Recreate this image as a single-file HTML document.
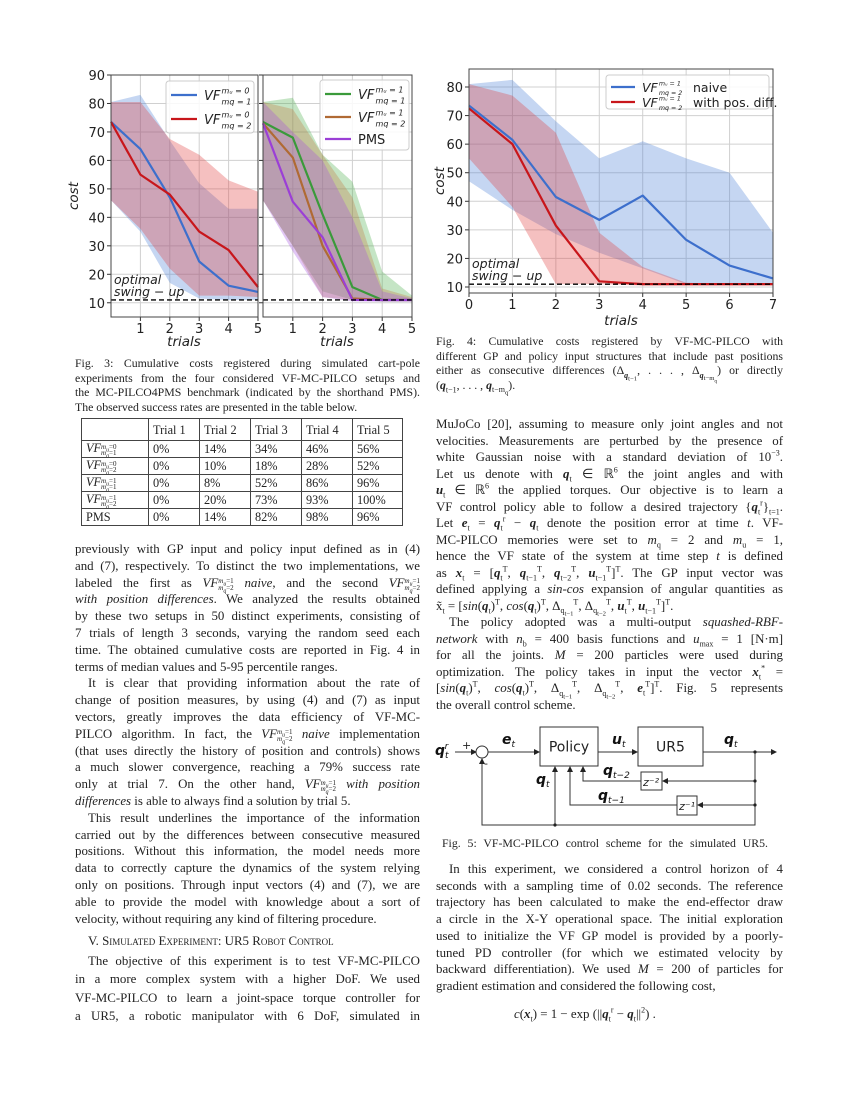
<!DOCTYPE html>
<html><head><meta charset="utf-8">
<style>
html,body{margin:0;padding:0;background:#fff;}
#page{position:relative;width:850px;height:1100px;overflow:hidden;background:#fff;font-family:"Liberation Serif",serif;color:#222;}
.j{position:absolute;font-size:12.9px;line-height:16px;height:16px;white-space:nowrap;text-align:left;}
.c{position:absolute;font-size:11.8px;line-height:14px;height:14px;white-space:nowrap;text-align:left;}
.ss{display:inline-block;vertical-align:-3px;font-size:7px;line-height:6.5px;height:13px;text-align:left;}
sub,sup{line-height:0;}
i{font-style:italic;}
b.v{font-weight:bold;font-style:italic;}
svg text{font-family:"DejaVu Sans","Liberation Sans",sans-serif;}
table.t{position:absolute;left:81px;top:418px;border-collapse:collapse;font-size:12.3px;font-family:"Liberation Serif",serif;table-layout:fixed;}
table.t td{border:1px solid #444;padding:0 0 0 4px;height:16px;line-height:14px;overflow:hidden;white-space:nowrap;}
</style></head><body>
<div id="page">

<svg id="fig3" width="850" height="350" style="position:absolute;left:0;top:0"></svg>
<svg id="fig4" width="850" height="340" style="position:absolute;left:0;top:0"></svg>

<div id="caps"></div>

<table class="t">
<tr style="height:22px"><td style="width:62px"></td><td style="width:46px">Trial 1</td><td style="width:46px">Trial 2</td><td style="width:46px">Trial 3</td><td style="width:46px">Trial 4</td><td style="width:45px">Trial 5</td></tr>
<tr><td><i>VF</i><span class="ss"><i>m<sub>u</sub></i>=0<br><i>m<sub>q</sub></i>=1</span></td><td>0%</td><td>14%</td><td>34%</td><td>46%</td><td>56%</td></tr>
<tr><td><i>VF</i><span class="ss"><i>m<sub>u</sub></i>=0<br><i>m<sub>q</sub></i>=2</span></td><td>0%</td><td>10%</td><td>18%</td><td>28%</td><td>52%</td></tr>
<tr><td><i>VF</i><span class="ss"><i>m<sub>u</sub></i>=1<br><i>m<sub>q</sub></i>=1</span></td><td>0%</td><td>8%</td><td>52%</td><td>86%</td><td>96%</td></tr>
<tr><td><i>VF</i><span class="ss"><i>m<sub>u</sub></i>=1<br><i>m<sub>q</sub></i>=2</span></td><td>0%</td><td>20%</td><td>73%</td><td>93%</td><td>100%</td></tr>
<tr><td>PMS</td><td>0%</td><td>14%</td><td>82%</td><td>98%</td><td>96%</td></tr>
</table>

<div id="leftcol"></div>
<div id="rightcol"></div>

<svg id="fig5" width="850" height="1100" style="position:absolute;left:0;top:0;pointer-events:none"></svg>

<script>
var NS='http://www.w3.org/2000/svg';
// ---- Fig 3 data (left panel) ----
var trials3=[0,1,2,3,4,5];
var vf01Median=[73.5,64,47,24.5,16,13.8];
var vf01Upper=[80.5,83,67,52,43,43];
var vf01Lower=[46,35,17,11.5,11,11];
var vf02Median=[73.5,55,48,35,28.5,15.5];
var vf02Upper=[80.5,80.5,67.5,62,53,49];
var vf02Lower=[46,36,22,12.5,12.5,12];
// ---- Fig 3 data (right panel) ----
var vf11Median=[73.5,68,41,15.5,11,11];
var vf11Upper=[80.5,82,62,52.5,21,12.5];
var vf11Lower=[46,30,14,11,10.5,10.5];
var vf12Median=[73,61,30,11.5,11,11];
var vf12Upper=[80.5,78,62,47,15,12];
var vf12Lower=[46,30,12,11,10.5,10.5];
var pmsMedian=[73,45.5,33,11,11,11];
var pmsUpper=[80.5,70,60,40,14,11.5];
var pmsLower=[46,28,12,10.5,10.3,10.3];
var yTicks3=[10,20,30,40,50,60,70,80,90];
var xTicks3=[1,2,3,4,5];
// ---- Fig 4 data ----
var trials4=[0,1,2,3,4,5,6,7];
var naiveMedian=[73.5,61.5,41.5,33.5,42,26.5,17.5,13];
var naiveUpper=[81,82.5,68,55,61,55,50,29];
var naiveLower=[47,37,28.5,22,16.5,11,11,11];
var posdiffMedian=[72.5,60,31.5,12,11,11,11,11];
var posdiffUpper=[81,77,64,29,17,11.5,11,11];
var posdiffLower=[55,38,11,11,10.5,10.5,10.5,10.5];
var yTicks4=[10,20,30,40,50,60,70,80];
var xTicks4=[0,1,2,3,4,5,6,7];
var optimalCost=11;

function mk(parent,tag,attrs,txt){var e=document.createElementNS(NS,tag);for(var k in attrs)e.setAttribute(k,attrs[k]);if(txt!==undefined)e.textContent=txt;parent.appendChild(e);return e;}
function axes(o){
  o.sx=function(v){return o.x0+(v-o.xd[0])/(o.xd[1]-o.xd[0])*(o.x1-o.x0);};
  o.sy=function(v){return o.y1-(v-o.yd[0])/(o.yd[1]-o.yd[0])*(o.y1-o.y0);};
  return o;
}
function drawFrame(svg,o,xt,yt,showY){
  var g=mk(svg,'g',{});
  
  
  xt.forEach(function(v){mk(g,'line',{x1:o.sx(v),x2:o.sx(v),y1:o.y0,y2:o.y1,stroke:'#d0d0d0','stroke-width':1});});
  yt.forEach(function(v){mk(g,'line',{x1:o.x0,x2:o.x1,y1:o.sy(v),y2:o.sy(v),stroke:'#d0d0d0','stroke-width':1});});
  var ax=mk(svg,'g',{});
  
  
  xt.forEach(function(v){
    mk(ax,'line',{x1:o.sx(v),x2:o.sx(v),y1:o.y1,y2:o.y1+4,stroke:'#333'});
    var t=mk(ax,'text',{x:o.sx(v),y:o.y1+16,'font-size':13,'text-anchor':'middle',fill:'#222'},String(v));
    
    
  });
  yt.forEach(function(v){
    mk(ax,'line',{x1:o.x0-4,x2:o.x0,y1:o.sy(v),y2:o.sy(v),stroke:'#333'});
    if(showY){var t=mk(ax,'text',{x:o.x0-6,y:o.sy(v)+5,'font-size':13,'text-anchor':'end',fill:'#222'},String(v));
    
    }
  });
}
function drawBand(svg,o,xs,up,lo,col,name){
  var pts=[];xs.forEach(function(x,i){pts.push(o.sx(x)+','+o.sy(up[i]));});
  for(var i=xs.length-1;i>=0;i--)pts.push(o.sx(xs[i])+','+o.sy(lo[i]));
  var p=mk(svg,'polygon',{points:pts.join(' '),fill:col,'fill-opacity':0.32,stroke:'none'});
  
  
}
function drawLine(svg,o,xs,ys,col,name){
  var d=xs.map(function(x,i){return (i?'L':'M')+o.sx(x)+' '+o.sy(ys[i]);}).join(' ');
  var p=mk(svg,'path',{d:d,fill:'none',stroke:col,'stroke-width':2.2,'stroke-linejoin':'round'});
  
  
}
function drawOpt(svg,o,name,label){
  var l=mk(svg,'line',{x1:o.x0,x2:o.x1,y1:o.sy(optimalCost),y2:o.sy(optimalCost),stroke:'#000','stroke-width':1.4,'stroke-dasharray':'5,3'});
  
  
  if(label){
    var t1=mk(svg,'text',{x:o.x0+3,y:o.sy(optimalCost)-16,'font-size':12.5,'font-style':'italic',fill:'#222'},'optimal');
    
    
    var t2=mk(svg,'text',{x:o.x0+3,y:o.sy(optimalCost)-4,'font-size':12.5,'font-style':'italic',fill:'#222'},'swing − up');
    
    
  }
}
function border(svg,o,name){
  var r=mk(svg,'rect',{x:o.x0,y:o.y0,width:o.x1-o.x0,height:o.y1-o.y0,fill:'none',stroke:'#444','stroke-width':1});
  
  
}
function legend(svg,x,y,w,h,items,fs,sfs,lw,toff){
  var g=mk(svg,'g',{});
  
  
  mk(g,'rect',{x:x,y:y,width:w,height:h,rx:3,fill:'#fff','fill-opacity':0.85,stroke:'#ccc'});
  items.forEach(function(it){
    var e=mk(g,'g',{});
    
    
    mk(e,'line',{x1:x+5,x2:x+5+lw,y1:it.y,y2:it.y,stroke:it.c,'stroke-width':2.2});
    var tx=x+lw+12;
    if(it.vf){
      mk(e,'text',{x:tx,y:it.y+5,'font-size':fs,'font-style':'italic',fill:'#222'},'VF');
      mk(e,'text',{x:tx+fs*1.35,y:it.y-1.5,'font-size':sfs,'font-style':'italic',fill:'#222'},'m\u1d64 = '+it.u);
      mk(e,'text',{x:tx+fs*1.35,y:it.y+sfs+1.5,'font-size':sfs,'font-style':'italic',fill:'#222'},'mq = '+it.q);
      if(it.t)mk(e,'text',{x:tx+toff,y:it.y+5,'font-size':fs,fill:'#222'},it.t);
    } else mk(e,'text',{x:tx,y:it.y+5,'font-size':fs,fill:'#222'},it.t);
  });
}

// Fig 3
var f3=document.getElementById('fig3');
var p1=axes({name:'fig3-left',x0:111,x1:258,y0:75,y1:317,xd:[0,5],yd:[5,90]});
var p2=axes({name:'fig3-right',x0:263,x1:412,y0:75,y1:317,xd:[0,5],yd:[5,90]});
drawFrame(f3,p1,xTicks3,yTicks3,true);
drawFrame(f3,p2,xTicks3,yTicks3,false);
var BL='#3d6fcc',RD='#c8161b',GR='#3a9a3a',BR='#b06a34',PU='#9b3fd6';
drawBand(f3,p1,trials3,vf01Upper,vf01Lower,'#4a7fd6','band-vf-mu0-mq1');
drawBand(f3,p1,trials3,vf02Upper,vf02Lower,'#e03a3a','band-vf-mu0-mq2');
drawLine(f3,p1,trials3,vf01Median,BL,'line-vf-mu0-mq1');
drawLine(f3,p1,trials3,vf02Median,RD,'line-vf-mu0-mq2');
drawBand(f3,p2,trials3,vf11Upper,vf11Lower,'#4cae4c','band-vf-mu1-mq1');
drawBand(f3,p2,trials3,vf12Upper,vf12Lower,'#c07a40','band-vf-mu1-mq2');
drawBand(f3,p2,trials3,pmsUpper,pmsLower,'#a550e0','band-pms');
drawLine(f3,p2,trials3,vf11Median,GR,'line-vf-mu1-mq1');
drawLine(f3,p2,trials3,vf12Median,BR,'line-vf-mu1-mq2');
drawLine(f3,p2,trials3,pmsMedian,PU,'line-pms');
drawOpt(f3,p1,'optimal-line-left',true);
drawOpt(f3,p2,'optimal-line-right',false);
border(f3,p1,'fig3-left-frame');border(f3,p2,'fig3-right-frame');
legend(f3,166,81,88,52,[{y:95,c:BL,vf:1,u:0,q:1},{y:119,c:RD,vf:1,u:0,q:2}],13,8,26,0);
legend(f3,320,80,89,70,[{y:94,c:GR,vf:1,u:1,q:1},{y:117,c:BR,vf:1,u:1,q:2},{y:139,c:PU,t:'PMS'}],13,8,26,0);
var yl=mk(f3,'text',{x:0,y:0,'font-size':13.5,'font-style':'italic','text-anchor':'middle',transform:'translate(78,196) rotate(-90)',fill:'#222'},'cost');


[[184],[337]].forEach(function(a){var t=mk(f3,'text',{x:a[0],y:346,'font-size':13.5,'font-style':'italic','text-anchor':'middle',fill:'#222'},'trials');

});

// Fig 4
var f4=document.getElementById('fig4');
var q=axes({name:'fig4',x0:469,x1:773,y0:69,y1:293,xd:[0,7],yd:[7.9,86.3]});
drawFrame(f4,q,xTicks4,yTicks4,true);
drawBand(f4,q,trials4,naiveUpper,naiveLower,'#4a7fd6','band-naive');
drawBand(f4,q,trials4,posdiffUpper,posdiffLower,'#e03a3a','band-pos-diff');
drawLine(f4,q,trials4,naiveMedian,BL,'line-naive');
drawLine(f4,q,trials4,posdiffMedian,RD,'line-pos-diff');
drawOpt(f4,q,'optimal-line',true);
border(f4,q,'fig4-frame');
legend(f4,606,75,163,34,[{y:87,c:BL,vf:1,u:1,q:2,t:'naive'},{y:102,c:RD,vf:1,u:1,q:2,t:'with pos. diff.'}],12.5,6.3,24,51);
var y4=mk(f4,'text',{x:0,y:0,'font-size':13.5,'font-style':'italic','text-anchor':'middle',transform:'translate(444,181) rotate(-90)',fill:'#222'},'cost');


var x4=mk(f4,'text',{x:621,y:325,'font-size':13.5,'font-style':'italic','text-anchor':'middle',fill:'#222'},'trials');



// Fig 5 diagram
var f5=document.getElementById('fig5');
mk(f5,'defs',{}).innerHTML='<marker id="ar" markerWidth="6" markerHeight="6" refX="5" refY="3" orient="auto"><path d="M0,0 L6,3 L0,6 z" fill="#222"/></marker>';
function seg(pts,arrow,name){var p=mk(f5,'polyline',{points:pts,fill:'none',stroke:'#333','stroke-width':1});if(arrow)p.setAttribute('marker-end','url(#ar)');

}
function box(x,y,w,h,t,name,fs){var r=mk(f5,'rect',{x:x,y:y,width:w,height:h,fill:'#fff',stroke:'#333'});


mk(f5,'text',{x:x+w/2,y:y+h/2+5,'font-size':fs||14,'text-anchor':'middle',fill:'#222'},t);}
function lab(x,y,t,sub,sup){var e=mk(f5,'text',{x:x,y:y,'font-size':14,'font-weight':'bold','font-style':'italic','font-family':'Liberation Serif',fill:'#111'},t);
if(sub){mk(e,'tspan',{'font-size':9,dy:3,'font-weight':'normal'},sub);}
if(sup){mk(e,'tspan',{'font-size':9,dy:-9,dx:-4,'font-weight':'normal'},sup);}

}
seg('455,752 476,752',1,'ref-arrow');
var cc=mk(f5,'circle',{cx:482,cy:752,r:6,fill:'#fff',stroke:'#333'});


mk(f5,'text',{x:462,y:749,'font-size':11,fill:'#222'},'+');
mk(f5,'text',{x:484,y:767,'font-size':11,fill:'#222'},'-');
seg('488,752 539,752',1,'error-arrow');
box(540,727,58,39,'Policy','policy-block',14);
seg('598,752 637,752',1,'torque-arrow');
box(638,727,65,39,'UR5','ur5-block',14);
seg('703,752 776,752',1,'output-arrow');
seg('755,752 755,825 482,825 482,759',1,'feedback-loop');
seg('555,825 555,767',1,'qt-to-policy');
seg('755,781 663,781',1,'to-z2');
seg('641,781 583,781 583,767',1,'qt2-to-policy');
seg('755,805 698,805',1,'to-z1');
seg('677,805 570,805 570,767',1,'qt1-to-policy');
box(641,772,21,18,'','z2-block');mk(f5,'text',{x:643,y:786,'font-size':11,'font-style':'italic','font-family':'Liberation Serif',fill:'#222'},'z⁻²');
box(677,796,20,19,'','z1-block');mk(f5,'text',{x:679,y:810,'font-size':11,'font-style':'italic','font-family':'Liberation Serif',fill:'#222'},'z⁻¹');
[[755,752],[755,781],[755,805],[555,825]].forEach(function(p){var d=mk(f5,'circle',{cx:p[0],cy:p[1],r:1.6,fill:'#222'});

});
lab(435,755,'q','t','r');lab(502,744,'e','t');lab(612,744,'u','t');lab(724,744,'q','t');
lab(536,784,'q','t');lab(603,775,'q','t−2');lab(598,800,'q','t−1');

// text lines with fitted justification
var IND='@@';
function addLine(par,cls,html,x,y,w,last,name){
  var d=document.createElement('div');d.className=cls;
  if(html.indexOf(IND)===0){html=html.slice(2);x+=13;w-=13;}
  d.style.left=x+'px';d.style.top=y+'px';d.innerHTML=html;
  
  
  par.appendChild(d);
  var nat=d.getBoundingClientRect().width;
  var sp=(d.textContent.match(/ /g)||[]).length;
  if(sp>0 && (!last || nat>w)){d.style.wordSpacing=((w-nat)/sp)+'px';}
}
var capsEl=document.getElementById('caps');
var C3=['Fig. 3: Cumulative costs registered during simulated cart-pole','experiments from the four considered VF-MC-PILCO setups and','the MC-PILCO4PMS benchmark (indicated by the shorthand PMS).','The observed success rates are presented in the table below.'];
C3.forEach(function(t,i){addLine(capsEl,'c',t,75,356+i*14.5,345,i==3,'fig3-caption-line');});
var sb=function(s){return '<sub style="font-size:8px">'+s+'</sub>';};
var sp=function(s){return '<sup style="font-size:8px">'+s+'</sup>';};
var q_='<b class="v">q</b>',u_='<b class="v">u</b>',x_='<b class="v">x</b>',e_='<b class="v">e</b>';
var C4=['Fig. 4: Cumulative costs registered by VF-MC-PILCO with','different GP and policy input structures that include past positions','either as consecutive differences (Δ'+sb(q_+'<sub>t−1</sub>')+', . . . , Δ'+sb(q_+'<sub>t−m<sub>q</sub></sub>')+') or directly','('+q_+sb('t−1')+', . . . , '+q_+sb('t−m<sub>q</sub>')+').'];
C4.forEach(function(t,i){addLine(capsEl,'c',t,436,334+i*14.7,347,i==3,'fig4-caption-line');});
addLine(capsEl,'c','Fig. 5: VF-MC-PILCO control scheme for the simulated UR5.',442,836,326,0,'fig5-caption');

var L=[
['previously with GP input and policy input defined as in (4)'],
['and (7), respectively. To distinct the two implementations, we'],
['labeled the first as <i>VF</i><span class="ss"><i>m<sub>u</sub></i>=1<br><i>m<sub>q</sub></i>=2</span> <i>naive</i>, and the second <i>VF</i><span class="ss"><i>m<sub>u</sub></i>=1<br><i>m<sub>q</sub></i>=2</span>'],
['<i>with position differences</i>. We analyzed the results obtained'],
['by these two setups in 50 distinct experiments, consisting of'],
['7 trials of length 3 seconds, varying the random seed each'],
['time. The obtained cumulative costs are reported in Fig. 4 in'],
['terms of median values and 5-95 percentile ranges.',1],
[IND+'It is clear that providing information about the rate of'],
['change of position measures, by using (4) and (7) as input'],
['vectors, greatly improves the data efficiency of VF-MC-'],
['PILCO algorithm. In fact, the <i>VF</i><span class="ss"><i>m<sub>u</sub></i>=1<br><i>m<sub>q</sub></i>=2</span> <i>naive</i> implementation'],
['(that uses directly the history of position and controls) shows'],
['a much slower convergence, reaching a 79% success rate'],
['only at trial 7. On the other hand, <i>VF</i><span class="ss"><i>m<sub>u</sub></i>=1<br><i>m<sub>q</sub></i>=2</span> <i>with position</i>'],
['<i>differences</i> is able to always find a solution by trial 5.',1],
[IND+'This result underlines the importance of the information'],
['carried out by the differences between consecutive measured'],
['positions. Without this information, the model needs more'],
['data to correctly capture the dynamics of the system relying'],
['only on positions. Through input vectors (4) and (7), we are'],
['able to provide the model with knowledge about a sort of'],
['velocity, without requiring any kind of filtering procedure.',1]
];
var lc=document.getElementById('leftcol');
L.forEach(function(l,i){addLine(lc,'j',l[0],75,541+i*16.8,345,l[1],'body-text-line');});
var h=document.createElement('div');h.className='j';h.style.cssText='left:88px;top:933px;font-variant:small-caps;';h.innerHTML='V. Simulated Experiment: UR5 Robot Control';


lc.appendChild(h);
var L2=[IND+'The objective of this experiment is to test VF-MC-PILCO','in a more complex system with a higher DoF. We used','VF-MC-PILCO to learn a joint-space torque controller for','a UR5, a robotic manipulator with 6 DoF, simulated in'];
var y2=[961,979,998,1016];
L2.forEach(function(t,i){addLine(lc,'j',t,75,y2[i]-8,345,0,'body-text-line');});

var R=[
['MuJoCo [20], assuming to measure only joint angles and not'],
['velocities. Measurements are perturbed by the presence of'],
['white Gaussian noise with a standard deviation of 10'+sp('−3')+'.'],
['Let us denote with '+q_+sb('t')+' ∈ ℝ'+sp('6')+' the joint angles and with'],
[u_+sb('t')+' ∈ ℝ'+sp('6')+' the applied torques. Our objective is to learn a'],
['VF control policy able to follow a desired trajectory {'+q_+sb('t')+sp('r')+'}'+sb('t=1')+'.'],
['Let '+e_+sb('t')+' = '+q_+sb('t')+sp('r')+' − '+q_+sb('t')+' denote the position error at time <i>t</i>. VF-'],
['MC-PILCO memories were set to <i>m</i>'+sb('q')+' = 2 and <i>m</i>'+sb('u')+' = 1,'],
['hence the VF state of the system at time step <i>t</i> is defined'],
['as '+x_+sb('t')+' = ['+q_+sb('t')+sp('T')+', '+q_+sb('t−1')+sp('T')+', '+q_+sb('t−2')+sp('T')+', '+u_+sb('t−1')+sp('T')+']'+sp('T')+'. The GP input vector was'],
['defined applying a <i>sin-cos</i> expansion of angular quantities as'],
['x̃'+sb('t')+' = [<i>sin</i>('+q_+sb('t')+')'+sp('T')+', <i>cos</i>('+q_+sb('t')+')'+sp('T')+', Δ'+sb('q<sub>t−1</sub>')+sp('T')+', Δ'+sb('q<sub>t−2</sub>')+sp('T')+', '+u_+sb('t')+sp('T')+', '+u_+sb('t−1')+sp('T')+']'+sp('T')+'.',1],
[IND+'The policy adopted was a multi-output <i>squashed-RBF-</i>'],
['<i>network</i> with <i>n</i>'+sb('b')+' = 400 basis functions and <i>u</i>'+sb('max')+' = 1 [N·m]'],
['for all the joints. <i>M</i> = 200 particles were used during'],
['optimization. The policy takes in input the vector '+x_+sb('t')+sp('*')+' ='],
['[<i>sin</i>('+q_+sb('t')+')'+sp('T')+', <i>cos</i>('+q_+sb('t')+')'+sp('T')+', Δ'+sb('q<sub>t−1</sub>')+sp('T')+', Δ'+sb('q<sub>t−2</sub>')+sp('T')+', '+e_+sb('t')+sp('T')+']'+sp('T')+'. Fig. 5 represents'],
['the overall control scheme.',1]
];
var rc=document.getElementById('rightcol');
R.forEach(function(l,i){addLine(rc,'j',l[0],436,416+i*16.5,347,l[1],'body-text-line');});
var R2=[
[IND+'In this experiment, we considered a control horizon of 4'],
['seconds with a sampling time of 0.02 seconds. The reference'],
['trajectory has been calculated to make the end-effector draw'],
['a circle in the X-Y operational space. The initial exploration'],
['used to initialize the VF GP model is provided by a poorly-'],
['tuned PD controller (for which we estimated velocity by'],
['backward differentiation). We used <i>M</i> = 200 of particles for'],
['gradient estimation and considered the following cost,',1]
];
R2.forEach(function(l,i){addLine(rc,'j',l[0],436,861+i*16.7,347,l[1],'body-text-line');});
addLine(rc,'j','<i>c</i>('+x_+sb('t')+') = 1 − exp (||'+q_+sb('t')+sp('r')+' − '+q_+sb('t')+'||'+sp('2')+') .',514,1006,260,1,'cost-equation');
</script>
</div>
</body></html>
